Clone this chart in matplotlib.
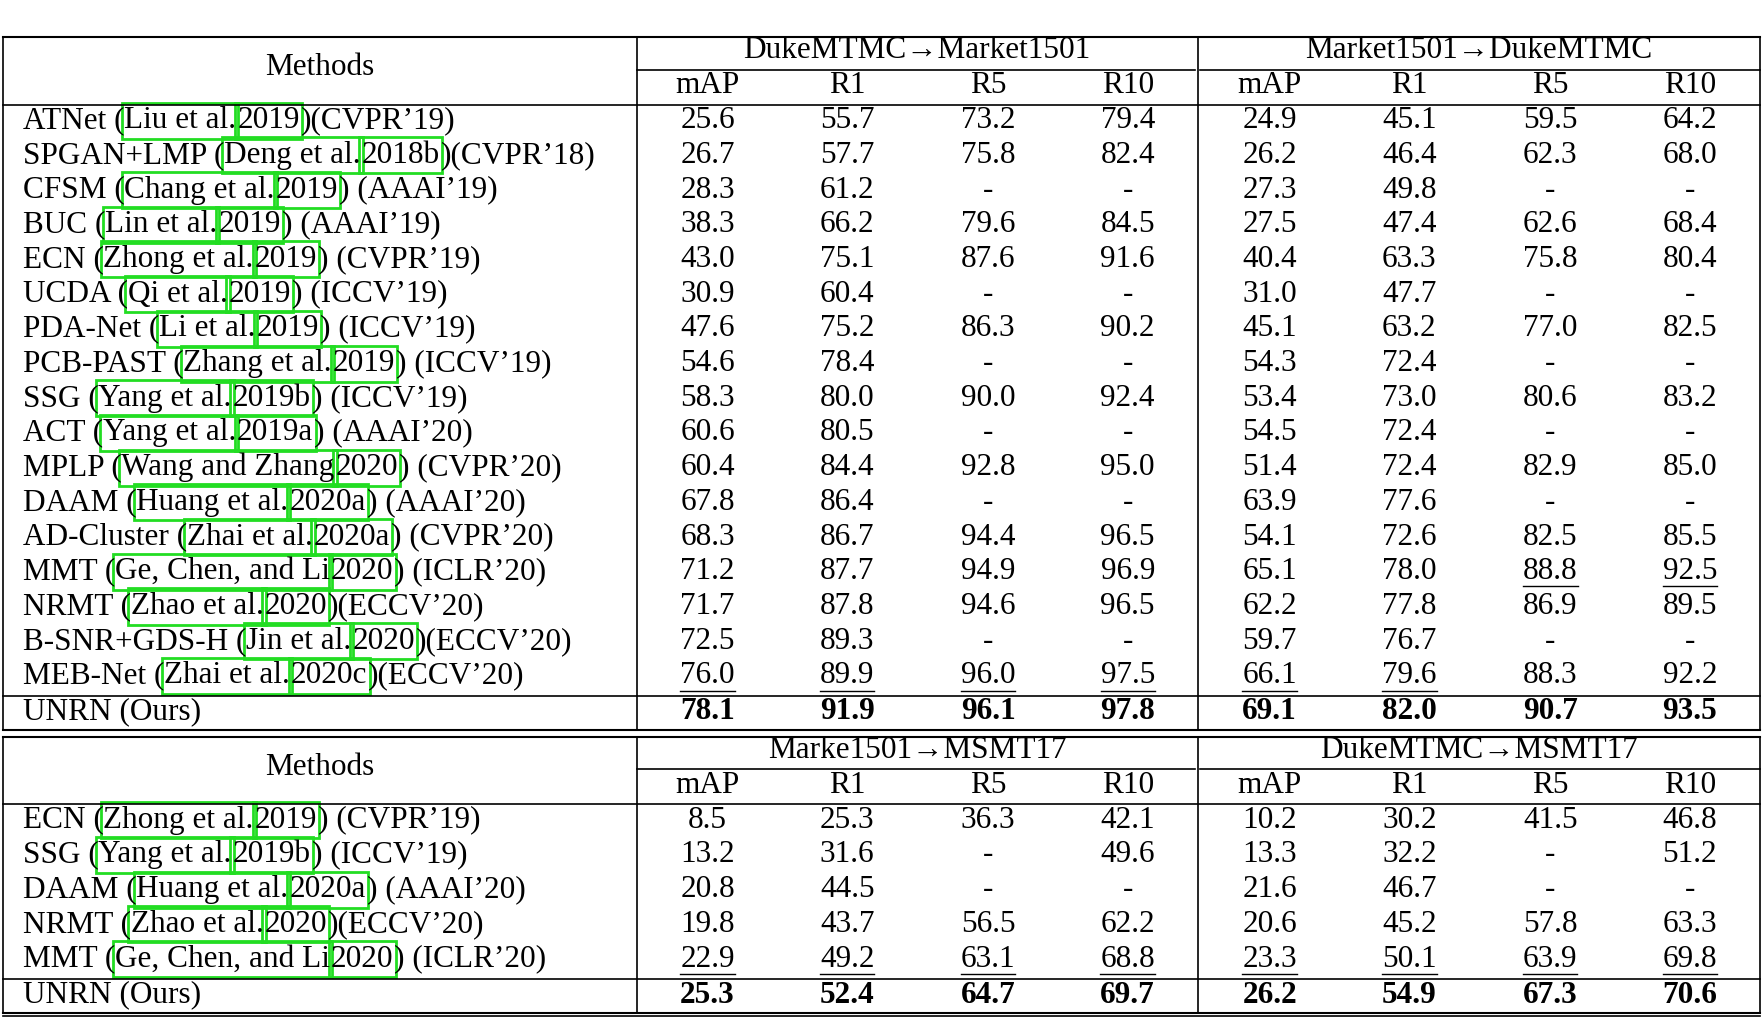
import matplotlib
matplotlib.use('Agg')
import matplotlib.pyplot as plt

FONT = 'Liberation Serif'
FS = 22.5

# ---- data ----
methods_top = [
    ("ATNet (", "Liu et al.", "2019", ")(CVPR’19)"),
    ("SPGAN+LMP (", "Deng et al.", "2018b", ")(CVPR’18)"),
    ("CFSM (", "Chang et al.", "2019", ") (AAAI’19)"),
    ("BUC (", "Lin et al.", "2019", ") (AAAI’19)"),
    ("ECN (", "Zhong et al.", "2019", ") (CVPR’19)"),
    ("UCDA (", "Qi et al.", "2019", ") (ICCV’19)"),
    ("PDA-Net (", "Li et al.", "2019", ") (ICCV’19)"),
    ("PCB-PAST (", "Zhang et al.", "2019", ") (ICCV’19)"),
    ("SSG (", "Yang et al.", "2019b", ") (ICCV’19)"),
    ("ACT (", "Yang et al.", "2019a", ") (AAAI’20)"),
    ("MPLP (", "Wang and Zhang", "2020", ") (CVPR’20)"),
    ("DAAM (", "Huang et al.", "2020a", ") (AAAI’20)"),
    ("AD-Cluster (", "Zhai et al.", "2020a", ") (CVPR’20)"),
    ("MMT (", "Ge, Chen, and Li", "2020", ") (ICLR’20)"),
    ("NRMT (", "Zhao et al.", "2020", ")(ECCV’20)"),
    ("B-SNR+GDS-H (", "Jin et al.", "2020", ")(ECCV’20)"),
    ("MEB-Net (", "Zhai et al.", "2020c", ")(ECCV’20)"),
]
values_top = [
    "25.6 55.7 73.2 79.4 24.9 45.1 59.5 64.2",
    "26.7 57.7 75.8 82.4 26.2 46.4 62.3 68.0",
    "28.3 61.2 - - 27.3 49.8 - -",
    "38.3 66.2 79.6 84.5 27.5 47.4 62.6 68.4",
    "43.0 75.1 87.6 91.6 40.4 63.3 75.8 80.4",
    "30.9 60.4 - - 31.0 47.7 - -",
    "47.6 75.2 86.3 90.2 45.1 63.2 77.0 82.5",
    "54.6 78.4 - - 54.3 72.4 - -",
    "58.3 80.0 90.0 92.4 53.4 73.0 80.6 83.2",
    "60.6 80.5 - - 54.5 72.4 - -",
    "60.4 84.4 92.8 95.0 51.4 72.4 82.9 85.0",
    "67.8 86.4 - - 63.9 77.6 - -",
    "68.3 86.7 94.4 96.5 54.1 72.6 82.5 85.5",
    "71.2 87.7 94.9 96.9 65.1 78.0 _88.8 _92.5",
    "71.7 87.8 94.6 96.5 62.2 77.8 86.9 89.5",
    "72.5 89.3 - - 59.7 76.7 - -",
    "_76.0 _89.9 _96.0 _97.5 _66.1 _79.6 88.3 92.2",
]
ours_top = "78.1 91.9 96.1 97.8 69.1 82.0 90.7 93.5"

methods_bot = [
    ("ECN (", "Zhong et al.", "2019", ") (CVPR’19)"),
    ("SSG (", "Yang et al.", "2019b", ") (ICCV’19)"),
    ("DAAM (", "Huang et al.", "2020a", ") (AAAI’20)"),
    ("NRMT (", "Zhao et al.", "2020", ")(ECCV’20)"),
    ("MMT (", "Ge, Chen, and Li", "2020", ") (ICLR’20)"),
]
values_bot = [
    "8.5 25.3 36.3 42.1 10.2 30.2 41.5 46.8",
    "13.2 31.6 - 49.6 13.3 32.2 - 51.2",
    "20.8 44.5 - - 21.6 46.7 - -",
    "19.8 43.7 56.5 62.2 20.6 45.2 57.8 63.3",
    "_22.9 _49.2 _63.1 _68.8 _23.3 _50.1 _63.9 _69.8",
]
ours_bot = "25.3 52.4 64.7 69.7 26.2 54.9 67.3 70.6"

groups_top = ["DukeMTMC→Market1501", "Market1501→DukeMTMC"]
groups_bot = ["Marke1501→MSMT17", "DukeMTMC→MSMT17"]
metrics = ["mAP", "R1", "R5", "R10"]

# ---- layout (in reference pixel units, 1564 x 906) ----
W, H = 1564, 906
col_x = [628, 752, 877, 1001, 1127, 1251, 1376, 1500]
x_left, x_div, x_mid, x_right = 3, 565, 1063, 1562

fig = plt.figure(figsize=(17.62, 10.21), dpi=100)
ax = fig.add_axes([0, 0, 1, 1])
ax.set_xlim(0, W)
ax.set_ylim(H, 0)
ax.axis('off')
fig.canvas.draw()
renderer = fig.canvas.get_renderer()
inv = ax.transData.inverted()


def put(x, y, s, ha='center', bold=False, underline=False):
    t = ax.text(x, y, s, ha=ha, va='center', fontsize=FS, family=FONT,
                fontweight='bold' if bold else 'normal')
    bb = t.get_window_extent(renderer)
    (x0, _), (x1, _) = inv.transform([[bb.x0, bb.y0], [bb.x1, bb.y1]])
    if underline:
        ax.plot([x0, x1], [y + 13, y + 13], color='black', lw=1)
    return t, x0, x1


def method(y, parts):
    pre, auth, year, post = parts
    x = 20
    for s, box in [(pre, False), (auth, True), (year, True), (post, False)]:
        t, x0, x1 = put(x, y, s, ha='left')
        if box:
            ax.add_patch(plt.Rectangle((x0 - 2, y - 16), x1 - x0 + 4, 32,
                                       fill=False, ec='#22dd22', lw=2))
        x = x1 + (1 if box else 0)


def hline(y, a=x_left, b=x_right, lw=1.2):
    ax.plot([a, b], [y, y], color='black', lw=lw)


def table(top, groups, methods, values, ours, step):
    hline(top, lw=1.5)
    put((x_left + x_div) / 2, top + 27, "Methods")
    put((x_div + x_mid) / 2, top + 12, groups[0])
    put((x_mid + x_right) / 2, top + 12, groups[1])
    hline(top + 29, x_div, x_mid - 2)
    hline(top + 29, x_mid + 2, x_right)
    for i, m in enumerate(metrics * 2):
        put(col_x[i], top + 43, m)
    hline(top + 60)
    y = top + 74
    for parts, row in zip(methods, values):
        method(y, parts)
        for cx, v in zip(col_x, row.split()):
            put(cx, y, v.lstrip('_'), underline=v.startswith('_'))
        y += step
    ysep = y - step + 18
    hline(ysep)
    yo = ysep + 14
    put(20, yo, "UNRN (Ours)", ha='left')
    for cx, v in zip(col_x, ours.split()):
        put(cx, yo, v, bold=True)
    bottom = yo + 16
    for xv in (x_left, x_div, x_mid, x_right):
        ax.plot([xv, xv], [top, bottom], color='black', lw=1.2)
    return bottom


b1 = table(33, groups_top, methods_top, values_top, ours_top, 30.8)
hline(b1, lw=1.5)
b2 = table(b1 + 6, groups_bot, methods_bot, values_bot, ours_bot, 30.8)
hline(b2, lw=1.5)
ax.plot([x_left, x_right], [b2 + 3, b2 + 3], color='black', lw=1.2)

fig.savefig('out.png', dpi=100)
